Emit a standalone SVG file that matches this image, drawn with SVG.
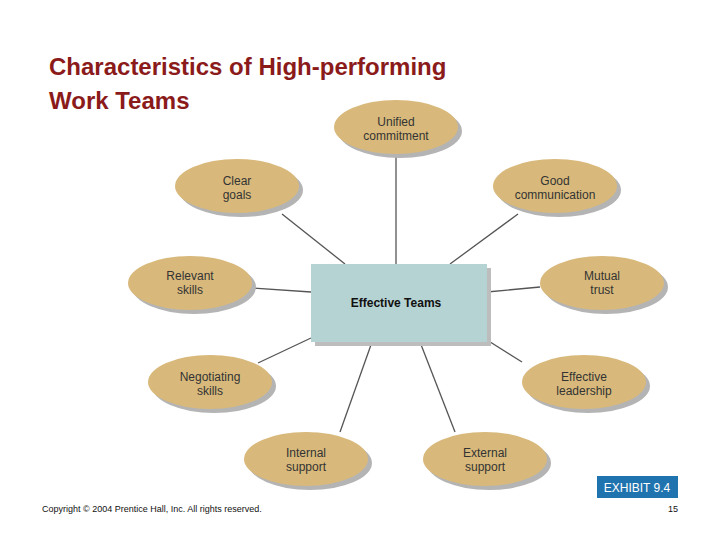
<svg xmlns="http://www.w3.org/2000/svg" width="720" height="540" viewBox="0 0 720 540">
<style>
.t{font-family:"Liberation Sans",Arial,sans-serif;}
.e{fill:#D8B97B;}
.s{fill:#B4B4B4;}
.l{font-family:"Liberation Sans",Arial,sans-serif;font-size:12px;fill:#333;text-anchor:middle;}
.c{stroke:#555;stroke-width:1.3;fill:none;}
</style>
<rect width="720" height="540" fill="#fff"/>
<text class="t" x="49" y="75" font-size="24" font-weight="bold" fill="#8B1A1A">Characteristics of High-performing</text>
<text class="t" x="49" y="109" font-size="24" font-weight="bold" fill="#8B1A1A">Work Teams</text>
<g id="connectors">
<line class="c" x1="396" y1="154" x2="396" y2="264"/>
<line class="c" x1="282" y1="214" x2="345" y2="264"/>
<line class="c" x1="518" y1="214" x2="450" y2="264"/>
<line class="c" x1="252" y1="288" x2="311" y2="292"/>
<line class="c" x1="540" y1="287" x2="487" y2="292"/>
<line class="c" x1="258" y1="363" x2="311" y2="338"/>
<line class="c" x1="522" y1="362" x2="487" y2="340"/>
<line class="c" x1="340" y1="432" x2="372" y2="342"/>
<line class="c" x1="455" y1="432" x2="420" y2="342"/>
</g>
<g id="center">
<rect x="315" y="268" width="176" height="78" fill="#BDBDBD"/>
<rect x="311" y="264" width="176" height="78" fill="#B6D3D3"/>
<text class="t" x="396" y="307" font-size="12" font-weight="bold" fill="#111" text-anchor="middle">Effective Teams</text>
</g>
<g id="unified"><ellipse class="s" cx="400" cy="131" rx="62" ry="27"/><ellipse class="e" cx="396" cy="127" rx="62" ry="27"/><text class="l" x="396" y="126">Unified</text><text class="l" x="396" y="140">commitment</text></g>
<g id="clear"><ellipse class="s" cx="241" cy="190" rx="62" ry="27"/><ellipse class="e" cx="237" cy="186" rx="62" ry="27"/><text class="l" x="237" y="185">Clear</text><text class="l" x="237" y="199">goals</text></g>
<g id="good"><ellipse class="s" cx="559" cy="190" rx="62" ry="27"/><ellipse class="e" cx="555" cy="186" rx="62" ry="27"/><text class="l" x="555" y="185">Good</text><text class="l" x="555" y="199">communication</text></g>
<g id="relevant"><ellipse class="s" cx="194" cy="287" rx="62" ry="27"/><ellipse class="e" cx="190" cy="283" rx="62" ry="27"/><text class="l" x="190" y="280">Relevant</text><text class="l" x="190" y="294">skills</text></g>
<g id="mutual"><ellipse class="s" cx="606" cy="287" rx="62" ry="27"/><ellipse class="e" cx="602" cy="283" rx="62" ry="27"/><text class="l" x="602" y="280">Mutual</text><text class="l" x="602" y="294">trust</text></g>
<g id="negotiating"><ellipse class="s" cx="214" cy="386" rx="62" ry="27"/><ellipse class="e" cx="210" cy="382" rx="62" ry="27"/><text class="l" x="210" y="381">Negotiating</text><text class="l" x="210" y="395">skills</text></g>
<g id="leadership"><ellipse class="s" cx="588" cy="386" rx="62" ry="27"/><ellipse class="e" cx="584" cy="382" rx="62" ry="27"/><text class="l" x="584" y="381">Effective</text><text class="l" x="584" y="395">leadership</text></g>
<g id="internal"><ellipse class="s" cx="310" cy="463" rx="62" ry="27"/><ellipse class="e" cx="306" cy="459" rx="62" ry="27"/><text class="l" x="306" y="457">Internal</text><text class="l" x="306" y="471">support</text></g>
<g id="external"><ellipse class="s" cx="489" cy="463" rx="62" ry="27"/><ellipse class="e" cx="485" cy="459" rx="62" ry="27"/><text class="l" x="485" y="457">External</text><text class="l" x="485" y="471">support</text></g>
<rect x="597" y="476" width="81" height="22" fill="#1F73AE"/>
<text class="t" x="637" y="492" font-size="12" fill="#fff" text-anchor="middle">EXHIBIT 9.4</text>
<text class="t" x="42" y="512" font-size="9" fill="#111">Copyright © 2004 Prentice Hall, Inc. All rights reserved.</text>
<text class="t" x="678" y="512" font-size="9" fill="#111" text-anchor="end">15</text>
</svg>
